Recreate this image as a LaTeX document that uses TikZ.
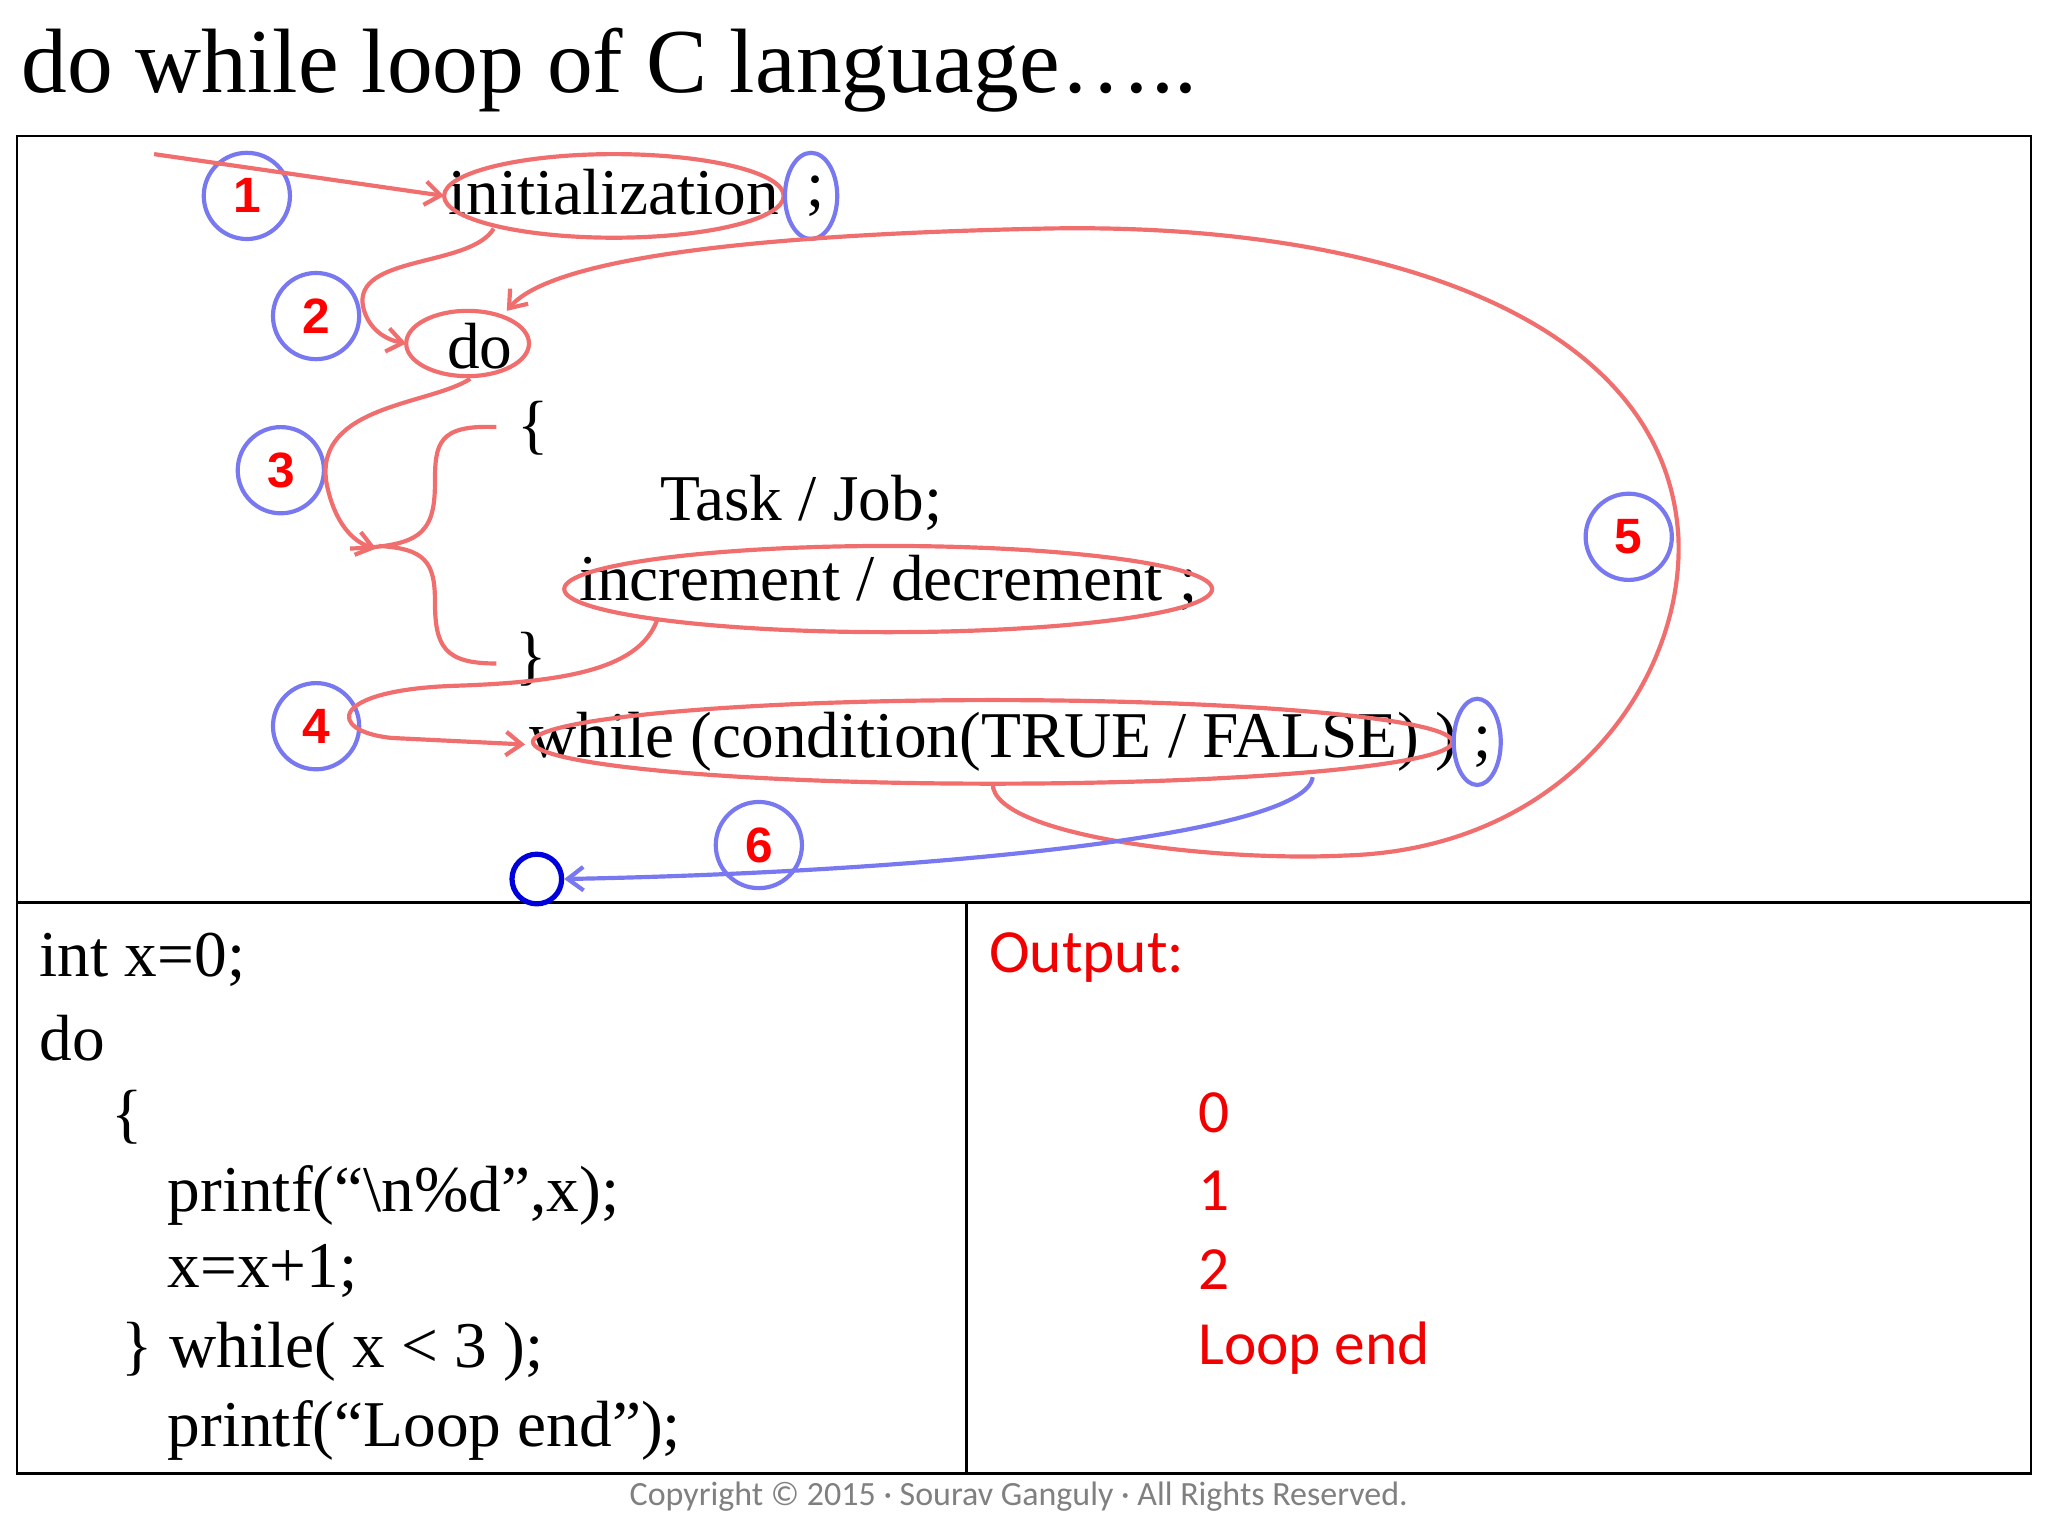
\documentclass[tikz,border=0pt]{standalone}
\usepackage{fontspec}
\setmainfont{Liberation Serif}
\newfontfamily\numf{Liberation Sans}
\newfontfamily\calf{Carlito}
\usetikzlibrary{arrows.meta}
\definecolor{rl}{RGB}{240,110,110}
\definecolor{bl}{RGB}{120,120,240}
\definecolor{db}{RGB}{0,0,220}
\definecolor{outred}{RGB}{240,0,0}
\begin{document}
\begin{tikzpicture}[x=0.5pt,y=-0.5pt,
  txt/.style={font=\fontsize{25}{28}\selectfont,inner sep=0pt,anchor=west},
  code/.style={font=\fontsize{25}{28}\selectfont,inner sep=0pt,anchor=west},
  outt/.style={font=\calf\fontsize{23.5}{28}\selectfont,text=outred,inner sep=0pt,anchor=west},
  rell/.style={draw=rl,line width=1.6pt},
  bell/.style={draw=bl,line width=1.6pt},
  num/.style={circle,draw=bl,line width=1.6pt,minimum size=33pt,inner sep=0pt,font=\numf\bfseries\fontsize{19}{20}\selectfont,text=red},
  rarr/.style={draw=rl,line width=1.6pt,-{Straight Barb[length=6pt,width=9pt]}},
  rline/.style={draw=rl,line width=1.6pt},
  barr/.style={draw=bl,line width=1.6pt,-{Straight Barb[length=6pt,width=9pt]}}]
\useasboundingbox (0,0) rectangle (1568,1176);
\node[font=\fontsize{35}{40}\selectfont,inner sep=0pt,anchor=west] (title) at (16,54) {do while loop of C language…..};
\draw[line width=1pt] (13,104) rectangle (1555,1128);
\draw[line width=1pt] (13,691) -- (1555,691);
\draw[line width=1pt] (740,691) -- (740,1128);
% upper texts
\node[txt] (init) at (343,147) {initialization};
\node[txt] (semi1) at (617,150) {;};
\node[txt] (do) at (342,265) {do};
\node[txt] (ob) at (396,328) {\{};
\node[txt] (task) at (505,385) {Task / Job;};
\node[txt] (inc) at (443,446) {increment / decrement ;};
\node[txt] (cb) at (394,505) {\}};
\node[txt] (wh) at (405,568) {while (condition(TRUE / FALSE) ) ;};
% ellipses
\draw[rell] (470,150) ellipse [x radius=130,y radius=32];
\draw[rell] (358,263) ellipse [x radius=47,y radius=25];
\draw[rell] (680,451) ellipse [x radius=248,y radius=33];
\draw[rell] (760,568) ellipse [x radius=352,y radius=32];
\draw[bell] (621,150) ellipse [x radius=20,y radius=33];
\draw[bell] (1131,568) ellipse [x radius=18,y radius=33];
% numbers
\node[num] (n1) at (189,150) {1};
\node[num] (n2) at (242,242) {2};
\node[num] (n3) at (215,360) {3};
\node[num] (n4) at (242,556) {4};
\node[num] (n5) at (1247,411) {5};
\node[num] (n6) at (581,647) {6};
\node[circle,draw=db,line width=2pt,minimum size=19pt,inner sep=0pt] (endc) at (411,673) {};
% arrows
\coordinate (s1) at (118,118);
\coordinate (e1) at (340,150);
\draw[rarr] (s1) -- (e1);
\coordinate (s2) at (378,175);
\coordinate (e2) at (311,263);
\draw[rarr] (s2) .. controls (360,205) and (270,195) .. (278,235) .. controls (282,252) and (295,260) .. (e2);
\coordinate (s3) at (360,290);
\coordinate (e3) at (288,420);
\draw[rarr] (s3) .. controls (330,310) and (240,310) .. (250,370) .. controls (256,400) and (270,415) .. (e3);
\coordinate (bt) at (380,327);
\coordinate (bb) at (380,508);
\draw[rline] (bt) .. controls (335,325) and (333,340) .. (333,370) .. controls (333,410) and (320,418) .. (268,420)
  (290,418) .. controls (325,420) and (333,430) .. (333,460) .. controls (333,495) and (340,508) .. (bb);
\coordinate (s4) at (503,475);
\coordinate (e4) at (402,570);
\draw[rarr] (s4) .. controls (490,510) and (440,522) .. (350,525) .. controls (250,528) and (250,560) .. (300,565) -- (e4);
\coordinate (s5) at (760,600);
\coordinate (e5) at (388,238);
\draw[rarr] (s5) .. controls (760,640) and (930,660) .. (1030,655) .. controls (1200,650) and (1290,520) .. (1285,411)
  .. controls (1275,240) and (1050,170) .. (800,175) .. controls (560,180) and (420,200) .. (e5);
\coordinate (s6) at (1005,595);
\draw[barr] (s6) .. controls (1000,640) and (700,668) .. (endc.east);
% code
\node[code] (c1) at (30,735) {int x=0;};
\node[code] (c2) at (30,795) {do};
\node[code] (c3) at (85,855) {\{};
\node[code] (c4) at (128,915) {printf(“\textbackslash n\%d”,x);};
\node[code] (c5) at (128,973) {x=x+1;};
\node[code] (c6) at (93,1035) {\}\ while( x < 3 );};
\node[code] (c7) at (128,1095) {printf(“Loop end”);};
% output
\node[outt] (o0) at (757,733) {Output:};
\node[outt] (o1) at (917,852) {0};
\node[outt] (o2) at (917,912) {1};
\node[outt] (o3) at (917,972) {2};
\node[outt] (o4) at (917,1032) {Loop end};
\node[font=\calf\fontsize{13}{15}\selectfont,text=gray,inner sep=0pt] (copy) at (780,1146) {Copyright © 2015 · Sourav Ganguly · All Rights Reserved.};
\end{tikzpicture}
\end{document}
